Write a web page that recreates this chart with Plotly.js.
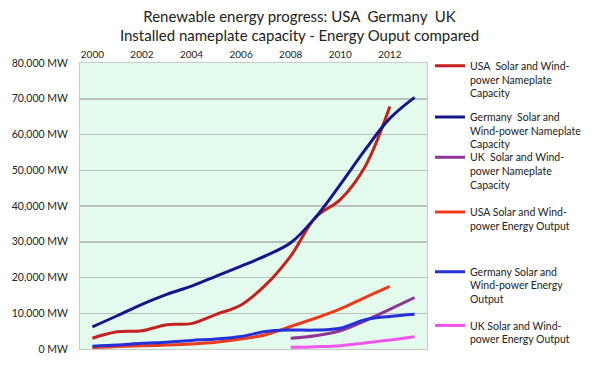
<!DOCTYPE html>
<html>
<head>
<meta charset="utf-8">
<script src="https://cdn.plot.ly/plotly-3.0.1.min.js"></script>
<style>html,body{margin:0;padding:0;background:#fff;}#chart{width:599px;height:365px;}</style>
</head>
<body>
<div id="chart"></div>
<script>
var years = [2000, 2001, 2002, 2003, 2004, 2005, 2006, 2007, 2008, 2009, 2010, 2011, 2012, 2013];
var usaCapacity = [3000, 4800, 5100, 6800, 7100, 9700, 12300, 18000, 26000, 36800, 41800, 51000, 67800, null];
var germanyCapacity = [6200, 9300, 12500, 15300, 17600, 20400, 23200, 26100, 29700, 36800, 46000, 55700, 64500, 70400];
var ukCapacity = [null, null, null, null, null, null, null, null, 3000, 3700, 5100, 7900, 11100, 14400];
var usaOutput = [400, 700, 900, 1100, 1400, 1900, 2800, 4000, 6300, 8600, 11200, 14400, 17500, null];
var germanyOutput = [800, 1100, 1600, 1900, 2400, 2800, 3500, 4900, 5300, 5300, 5800, 8200, 9100, 9700];
var ukOutput = [null, null, null, null, null, null, null, null, 470, 650, 930, 1700, 2500, 3400];
var seriesNames = [
  "USA  Solar and Wind-<br>power Nameplate<br>Capacity",
  "Germany  Solar and<br>Wind-power Nameplate<br>Capacity",
  "UK  Solar and Wind-<br>power Nameplate<br>Capacity",
  "USA Solar and Wind-<br>power Energy Output",
  "Germany Solar and<br>Wind-power Energy<br>Output",
  "UK Solar and Wind-<br>power Energy Output"
];
var xTickYears = [2000, 2002, 2004, 2006, 2008, 2010, 2012];
var yTickValues = [0, 10000, 20000, 30000, 40000, 50000, 60000, 70000, 80000];
var yTickLabels = ["0 MW", "10,000 MW", "20,000 MW", "30,000 MW", "40,000 MW", "50,000 MW", "60,000 MW", "70,000 MW", "80,000 MW"];

var seriesData = [usaCapacity, germanyCapacity, ukCapacity, usaOutput, germanyOutput, ukOutput];
var colors = ["#C4221E", "#16168A", "#8E3596", "#EE3A1E", "#2630D8", "#F255EC"];
var legendIds = ["legend", "legend2", "legend3", "legend4", "legend5", "legend6"];
var legendY = [1.037, 0.858, 0.717, 0.526, 0.317, 0.129];

var traces = seriesData.map(function (d, i) {
  return {
    x: years, y: d, name: seriesNames[i], type: "scatter", mode: "lines",
    line: {color: colors[i], width: 3, shape: "spline", smoothing: 1},
    connectgaps: false, legend: legendIds[i], showlegend: true, hoverinfo: "x+y+name"
  };
});

var font = "Lato, 'Open Sans', sans-serif";
var layout = {
  width: 599, height: 365,
  showlegend: true,
  margin: {l: 80, r: 169, t: 63, b: 15},
  paper_bgcolor: "#ffffff",
  plot_bgcolor: "#E2FBEC",
  font: {family: font, color: "#222222", size: 11},
  title: {
    text: "Renewable energy progress: USA  Germany  UK<br>Installed nameplate capacity - Energy Ouput compared",
    x: 0.5, xanchor: "center", y: 0.94, yanchor: "top",
    font: {family: font, size: 15, color: "#222222"}
  },
  xaxis: {
    side: "top", range: [1999.5, 2013.5], tickmode: "array",
    tickvals: xTickYears, ticktext: xTickYears.map(String),
    showgrid: false, zeroline: false, showline: true, linecolor: "#C8CCC8", linewidth: 1, mirror: true,
    ticks: "", tickfont: {family: font, size: 10, color: "#222222"}, fixedrange: true
  },
  yaxis: {
    range: [0, 80000], tickmode: "array", tickvals: yTickValues, ticktext: yTickLabels,
    showgrid: true, gridcolor: "#B9C2BA", gridwidth: 1.5,
    zeroline: false, showline: true, linecolor: "#C8CCC8", linewidth: 1, mirror: true,
    ticks: "", ticklabelstandoff: 9,
    tickfont: {family: font, size: 10.5, color: "#222222"}, fixedrange: true
  }
};
legendIds.forEach(function (id, i) {
  layout[id] = {
    x: 1.0086, xanchor: "left", y: legendY[i], yanchor: "top",
    bgcolor: "rgba(0,0,0,0)", borderwidth: 0, valign: "top",
    font: {family: font, size: 10.5, color: "#222222"},
    itemwidth: 30, tracegroupgap: 0, visible: true
  };
});

Plotly.newPlot("chart", traces, layout, {displayModeBar: false, staticPlot: true});
</script>
</body>
</html>
